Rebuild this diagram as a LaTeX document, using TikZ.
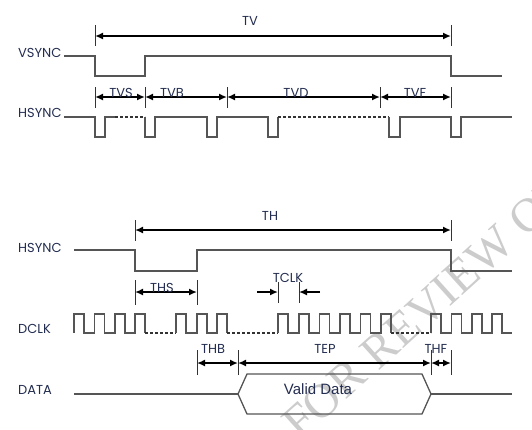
\documentclass[tikz,border=0pt]{standalone}
\usepackage{fontspec}
\setmainfont{Poppins}
\newfontfamily\arialfont{Liberation Sans}
\newfontfamily\wmfont{Liberation Serif}
\usetikzlibrary{arrows.meta}
\definecolor{lblcol}{RGB}{35,45,80}
\definecolor{sigcol}{RGB}{85,85,85}
\tikzset{
  sig/.style={draw=sigcol,line width=1.3pt},
  dashsig/.style={draw=black!80,line width=1.2pt,dash pattern=on 3pt off 2pt},
  dimarr/.style={draw=black,line width=1.6pt,{Latex[length=8pt,width=7pt]}-{Latex[length=8pt,width=7pt]}},
  onearr/.style={draw=black,line width=1.6pt,-{Latex[length=8pt,width=7pt]}},
  tickln/.style={draw=black!80,line width=0.9pt},
  lbl/.style={text=lblcol,font=\fontsize{13}{13}\selectfont,inner sep=0pt},
}
\begin{document}
\begin{tikzpicture}[x=1pt,y=-1pt]
  \useasboundingbox (0,0) rectangle (532,429);
  \pgfmathsetmacro {\vh}{56}   %vsync high
  \pgfmathsetmacro {\vl}{76}   %vsync low
  \pgfmathsetmacro {\hh}{117}  %hsync high (top)
  \pgfmathsetmacro {\hl}{137}  %hsync low (top)
  \pgfmathsetmacro {\ch}{314}  %clock high
  \pgfmathsetmacro {\cl}{333}  %clock low

  %Watermark
  \node[font=\wmfont\fontsize{48}{48}\selectfont,text=black!20,rotate=42,anchor=base west,inner sep=0pt]
    (wm) at (300,442) {FOR REVIEW ONLY};

  %Signal names
  \node[lbl,anchor=base west] (vsync) at (18,57) {VSYNC};
  \node[lbl,anchor=base west] (hsynca) at (18,117) {HSYNC};
  \node[lbl,anchor=base west] (hsyncb) at (18,252) {HSYNC};
  \node[lbl,anchor=base west] (dclk) at (18,333) {DCLK};
  \node[lbl,anchor=base west] (data) at (18,394) {DATA};

  %Vertical timing
  \draw[sig] (64,\vh) -- (95,\vh) -- (95,\vl) -- (145,\vl) -- (145,\vh) -- (451,\vh) -- (451,\vl) -- (502,\vl) ; %VSYNC
  \draw[sig] (64,\hh) -- (95,\hh) -- (95,\hl) -- (105,\hl) -- (105,\hh) -- (115,\hh) ;
  \draw[dashsig] (115,\hh) -- (145,\hh) ;
  \draw[sig] (145,\hh) -- (145,\hl) -- (155,\hl) -- (155,\hh) -- (207,\hh) -- (207,\hl) -- (217,\hl) -- (217,\hh)
    -- (268,\hh) -- (268,\hl) -- (278,\hl) -- (278,\hh) ;
  \draw[dashsig] (278,\hh) -- (389,\hh) ;
  \draw[sig] (389,\hh) -- (389,\hl) -- (400,\hl) -- (400,\hh) -- (451,\hh) -- (451,\hl) -- (461,\hl) -- (461,\hh) -- (512,\hh) ;

  %Vertical dimension lines
  \foreach \x in {95,451} \draw[tickln] (\x,25) -- (\x,46) ;
  \draw[dimarr] (95,36) -- (451,36) ;
  \node[lbl,anchor=base] (tv) at (250,25) {TV};
  \foreach \x in {95,145,227,380,451} \draw[tickln] (\x,87) -- (\x,108) ;
  \draw[dimarr] (95,97) -- (145,97) ;
  \draw[dimarr] (145,97) -- (227,97) ;
  \draw[dimarr] (227,97) -- (380,97) ;
  \draw[dimarr] (380,97) -- (451,97) ;
  \node[lbl,anchor=base] (tvs) at (121,97) {TVS};
  \node[lbl,anchor=base] (tvb) at (172,97) {TVB};
  \node[lbl,anchor=base] (tvd) at (296,97) {TVD};
  \node[lbl,anchor=base] (tvf) at (415,97) {TVF};

  %Horizontal timing
  \draw[sig] (74,250) -- (135,250) -- (135,271) -- (197,271) -- (197,250) -- (451,250) -- (451,271) -- (512,271) ; %HSYNC
  \draw[sig] (74,\cl) foreach \r in {74,94.5,115,135} { -- (\r,\cl) -- (\r,\ch) -- (\r+10,\ch) -- (\r+10,\cl) } ;
  \draw[dashsig] (145,\cl) -- (176,\cl) ;
  \draw[sig] (176,\cl) foreach \r in {176,197,217} { -- (\r,\cl) -- (\r,\ch) -- (\r+10,\ch) -- (\r+10,\cl) } ;
  \draw[dashsig] (227,\cl) -- (278,\cl) ;
  \draw[sig] (278,\cl) foreach \r in {278,299,319.5,340,360.5,381} { -- (\r,\cl) -- (\r,\ch) -- (\r+10,\ch) -- (\r+10,\cl) } ;
  \draw[dashsig] (391,\cl) -- (431,\cl) ;
  \draw[sig] (431,\cl) foreach \r in {431,451.5,472,492} { -- (\r,\cl) -- (\r,\ch) -- (\r+10,\ch) -- (\r+10,\cl) } -- (512,\cl) ;
  \draw[sig] (74,394) -- (238,394) ; %DATA idle
  \draw[sig] (238,394) -- (247,374) -- (422,374) -- (431,394) -- (422,414) -- (247,414) -- cycle ; %Valid data
  \draw[sig] (431,394) -- (512,394) ;
  \node[font=\arialfont\fontsize{15}{15}\selectfont,text=lblcol,anchor=base,inner sep=0pt] (valid) at (318,394) {Valid Data};

  %Horizontal dimension lines
  \foreach \x in {135,451} \draw[tickln] (\x,220) -- (\x,241) ;
  \draw[dimarr] (135,230) -- (451,230) ;
  \node[lbl,anchor=base] (th) at (270,220) {TH};
  \foreach \x in {135,197} \draw[tickln] (\x,280) -- (\x,305) ;
  \draw[dimarr] (135,292) -- (197,292) ;
  \node[lbl,anchor=base] (ths) at (162,292) {THS};
  \foreach \x in {278,299} \draw[tickln] (\x,282) -- (\x,303) ;
  \draw[onearr] (257,292) -- (278,292) ;
  \draw[onearr] (320,292) -- (299,292) ;
  \node[lbl,anchor=base] (tclk) at (288,282) {TCLK};
  \foreach \x in {197,238,431,451} \draw[tickln] (\x,350) -- (\x,375) ;
  \draw[dimarr] (197,363) -- (238,363) ;
  \draw[dimarr] (238,363) -- (431,363) ;
  \draw[dimarr] (431,363) -- (451,363) ;
  \node[lbl,anchor=base] (thb) at (213,353) {THB};
  \node[lbl,anchor=base] (tep) at (325,353) {TEP};
  \node[lbl,anchor=base] (thf) at (436,353) {THF};
\end{tikzpicture}
\end{document}
